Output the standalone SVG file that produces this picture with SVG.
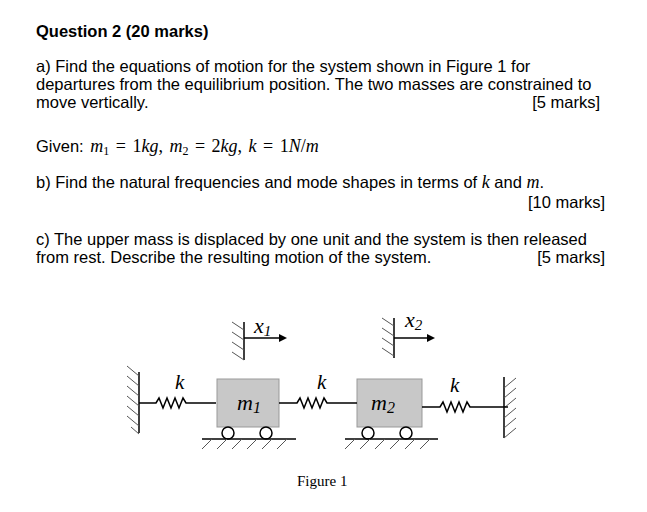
<svg xmlns="http://www.w3.org/2000/svg" width="647" height="512" viewBox="0 0 647 512">
<style>
.t{font-family:"Liberation Sans",Arial,sans-serif;font-size:16.5px;fill:#000}
.m{font-family:"Liberation Serif","Times New Roman",serif;font-style:italic}
.n{font-family:"Liberation Serif","Times New Roman",serif}
.g tspan{font-size:18px}
.ln{stroke:#000;stroke-width:1.5;fill:none}
.h{stroke:#555;stroke-width:1;fill:none}
.mass{fill:#c8c8c8;stroke:#999;stroke-width:1}
</style>
<rect width="647" height="512" fill="#fff"/>
<g id="text">
<text class="t" x="36" y="37" font-weight="bold">Question 2 (20 marks)</text>
<text class="t" x="36" y="72">a) Find the equations of motion for the system shown in Figure 1 for</text>
<text class="t" x="36" y="90">departures from the equilibrium position. The two masses are constrained to</text>
<text class="t" x="36" y="108">move vertically.</text>
<text class="t" x="600" y="108" text-anchor="end">[5 marks]</text>
<text class="t g" x="36" y="152" word-spacing="2">Given: <tspan class="m">m</tspan><tspan class="n" style="font-size:12px" dy="3">1</tspan><tspan dy="-3" class="n"> = 1</tspan><tspan class="m">kg</tspan><tspan class="n">, </tspan><tspan class="m">m</tspan><tspan class="n" style="font-size:12px" dy="3">2</tspan><tspan dy="-3" class="n"> = 2</tspan><tspan class="m">kg</tspan><tspan class="n">, </tspan><tspan class="m">k</tspan><tspan class="n"> = 1</tspan><tspan class="m">N</tspan><tspan class="n">/</tspan><tspan class="m">m</tspan></text>
<text class="t" x="36" y="188">b) Find the natural frequencies and mode shapes in terms of <tspan class="m" style="font-size:18px">k</tspan> and <tspan class="m" style="font-size:18px">m</tspan>.</text>
<text class="t" x="605" y="208" text-anchor="end">[10 marks]</text>
<text class="t" x="36" y="245">c) The upper mass is displaced by one unit and the system is then released</text>
<text class="t" x="36" y="263">from rest. Describe the resulting motion of the system.</text>
<text class="t" x="605" y="263" text-anchor="end">[5 marks]</text>
</g>
<g id="walls">
<line class="ln" x1="139" y1="372" x2="139" y2="433"/>
<path class="h" d="M139 376l-12 -10M139 386l-12 -10M139 396l-12 -10M139 406l-12 -10M139 416l-12 -10M139 426l-12 -10M139 434l-8 -7"/>
<line class="ln" x1="504" y1="377" x2="504" y2="438"/>
<path class="h" d="M504 388l12 -10M504 398l12 -10M504 408l12 -10M504 418l12 -10M504 428l12 -10M504 438l12 -10"/>
</g>
<g id="m1">
<rect class="mass" x="217" y="379" width="62" height="48"/>
<text class="m" x="237" y="410" style="font-size:22px">m<tspan class="n" style="font-size:16px" dy="3">1</tspan></text>
<circle cx="228" cy="433" r="6" fill="#fff" stroke="#000" stroke-width="1.5"/>
<circle cx="266" cy="433" r="6" fill="#fff" stroke="#000" stroke-width="1.5"/>
<line class="ln" x1="202" y1="439" x2="296" y2="439"/>
<path class="h" d="M212 439l-10 10M227 439l-10 10M242 439l-10 10M257 439l-10 10M272 439l-10 10M287 439l-10 10"/>
</g>
<g id="m2">
<rect class="mass" x="357" y="379" width="65" height="48"/>
<text class="m" x="371" y="410" style="font-size:22px">m<tspan class="n" style="font-size:16px" dy="3">2</tspan></text>
<circle cx="368" cy="433" r="6" fill="#fff" stroke="#000" stroke-width="1.5"/>
<circle cx="406" cy="433" r="6" fill="#fff" stroke="#000" stroke-width="1.5"/>
<line class="ln" x1="345" y1="439" x2="438" y2="439"/>
<path class="h" d="M355 439l-10 10M370 439l-10 10M385 439l-10 10M400 439l-10 10M415 439l-10 10M430 439l-10 10"/>
</g>
<g id="refs">
<line class="ln" x1="244" y1="322" x2="244" y2="360"/>
<path class="h" d="M244 330l-12 -8M244 340l-12 -8M244 350l-12 -8M244 360l-12 -8"/>
<line class="ln" x1="244" y1="338" x2="280" y2="338"/>
<path d="M287 338l-8 -4v8z"/>
<text class="m" x="254" y="333" style="font-size:22px">x<tspan class="n" style="font-size:15px" dy="3">1</tspan></text>
<line class="ln" x1="394" y1="318" x2="394" y2="358"/>
<path class="h" d="M394 326l-12 -8M394 336l-12 -8M394 346l-12 -8M394 356l-12 -8"/>
<line class="ln" x1="394" y1="338" x2="428" y2="338"/>
<path d="M435 338l-8 -4v8z"/>
<text class="m" x="405" y="327" style="font-size:22px">x<tspan class="n" style="font-size:15px" dy="3">2</tspan></text>
</g>
<g id="connectors">
<path class="ln" stroke-width="1.2" d="M139 403h17l3 -5l4 10l4 -10l4 10l4 -10l4 10l4 -10l3 5h30"/>
<path class="ln" stroke-width="1.2" d="M279 403h18l3 -5l4 10l4 -10l4 10l4 -10l4 10l4 -10l3 5h30"/>
<path class="ln" stroke-width="1.2" d="M422 407h18l3 -5l4 10l4 -10l4 10l4 -10l4 10l4 -10l3 5h38"/>
<text class="m" x="175" y="389" style="font-size:21px">k</text>
<text class="m" x="317" y="389" style="font-size:21px">k</text>
<text class="m" x="450" y="392" style="font-size:21px">k</text>
</g>
<text x="297" y="486" font-family="Liberation Serif,serif" font-size="15">Figure 1</text>
</svg>
